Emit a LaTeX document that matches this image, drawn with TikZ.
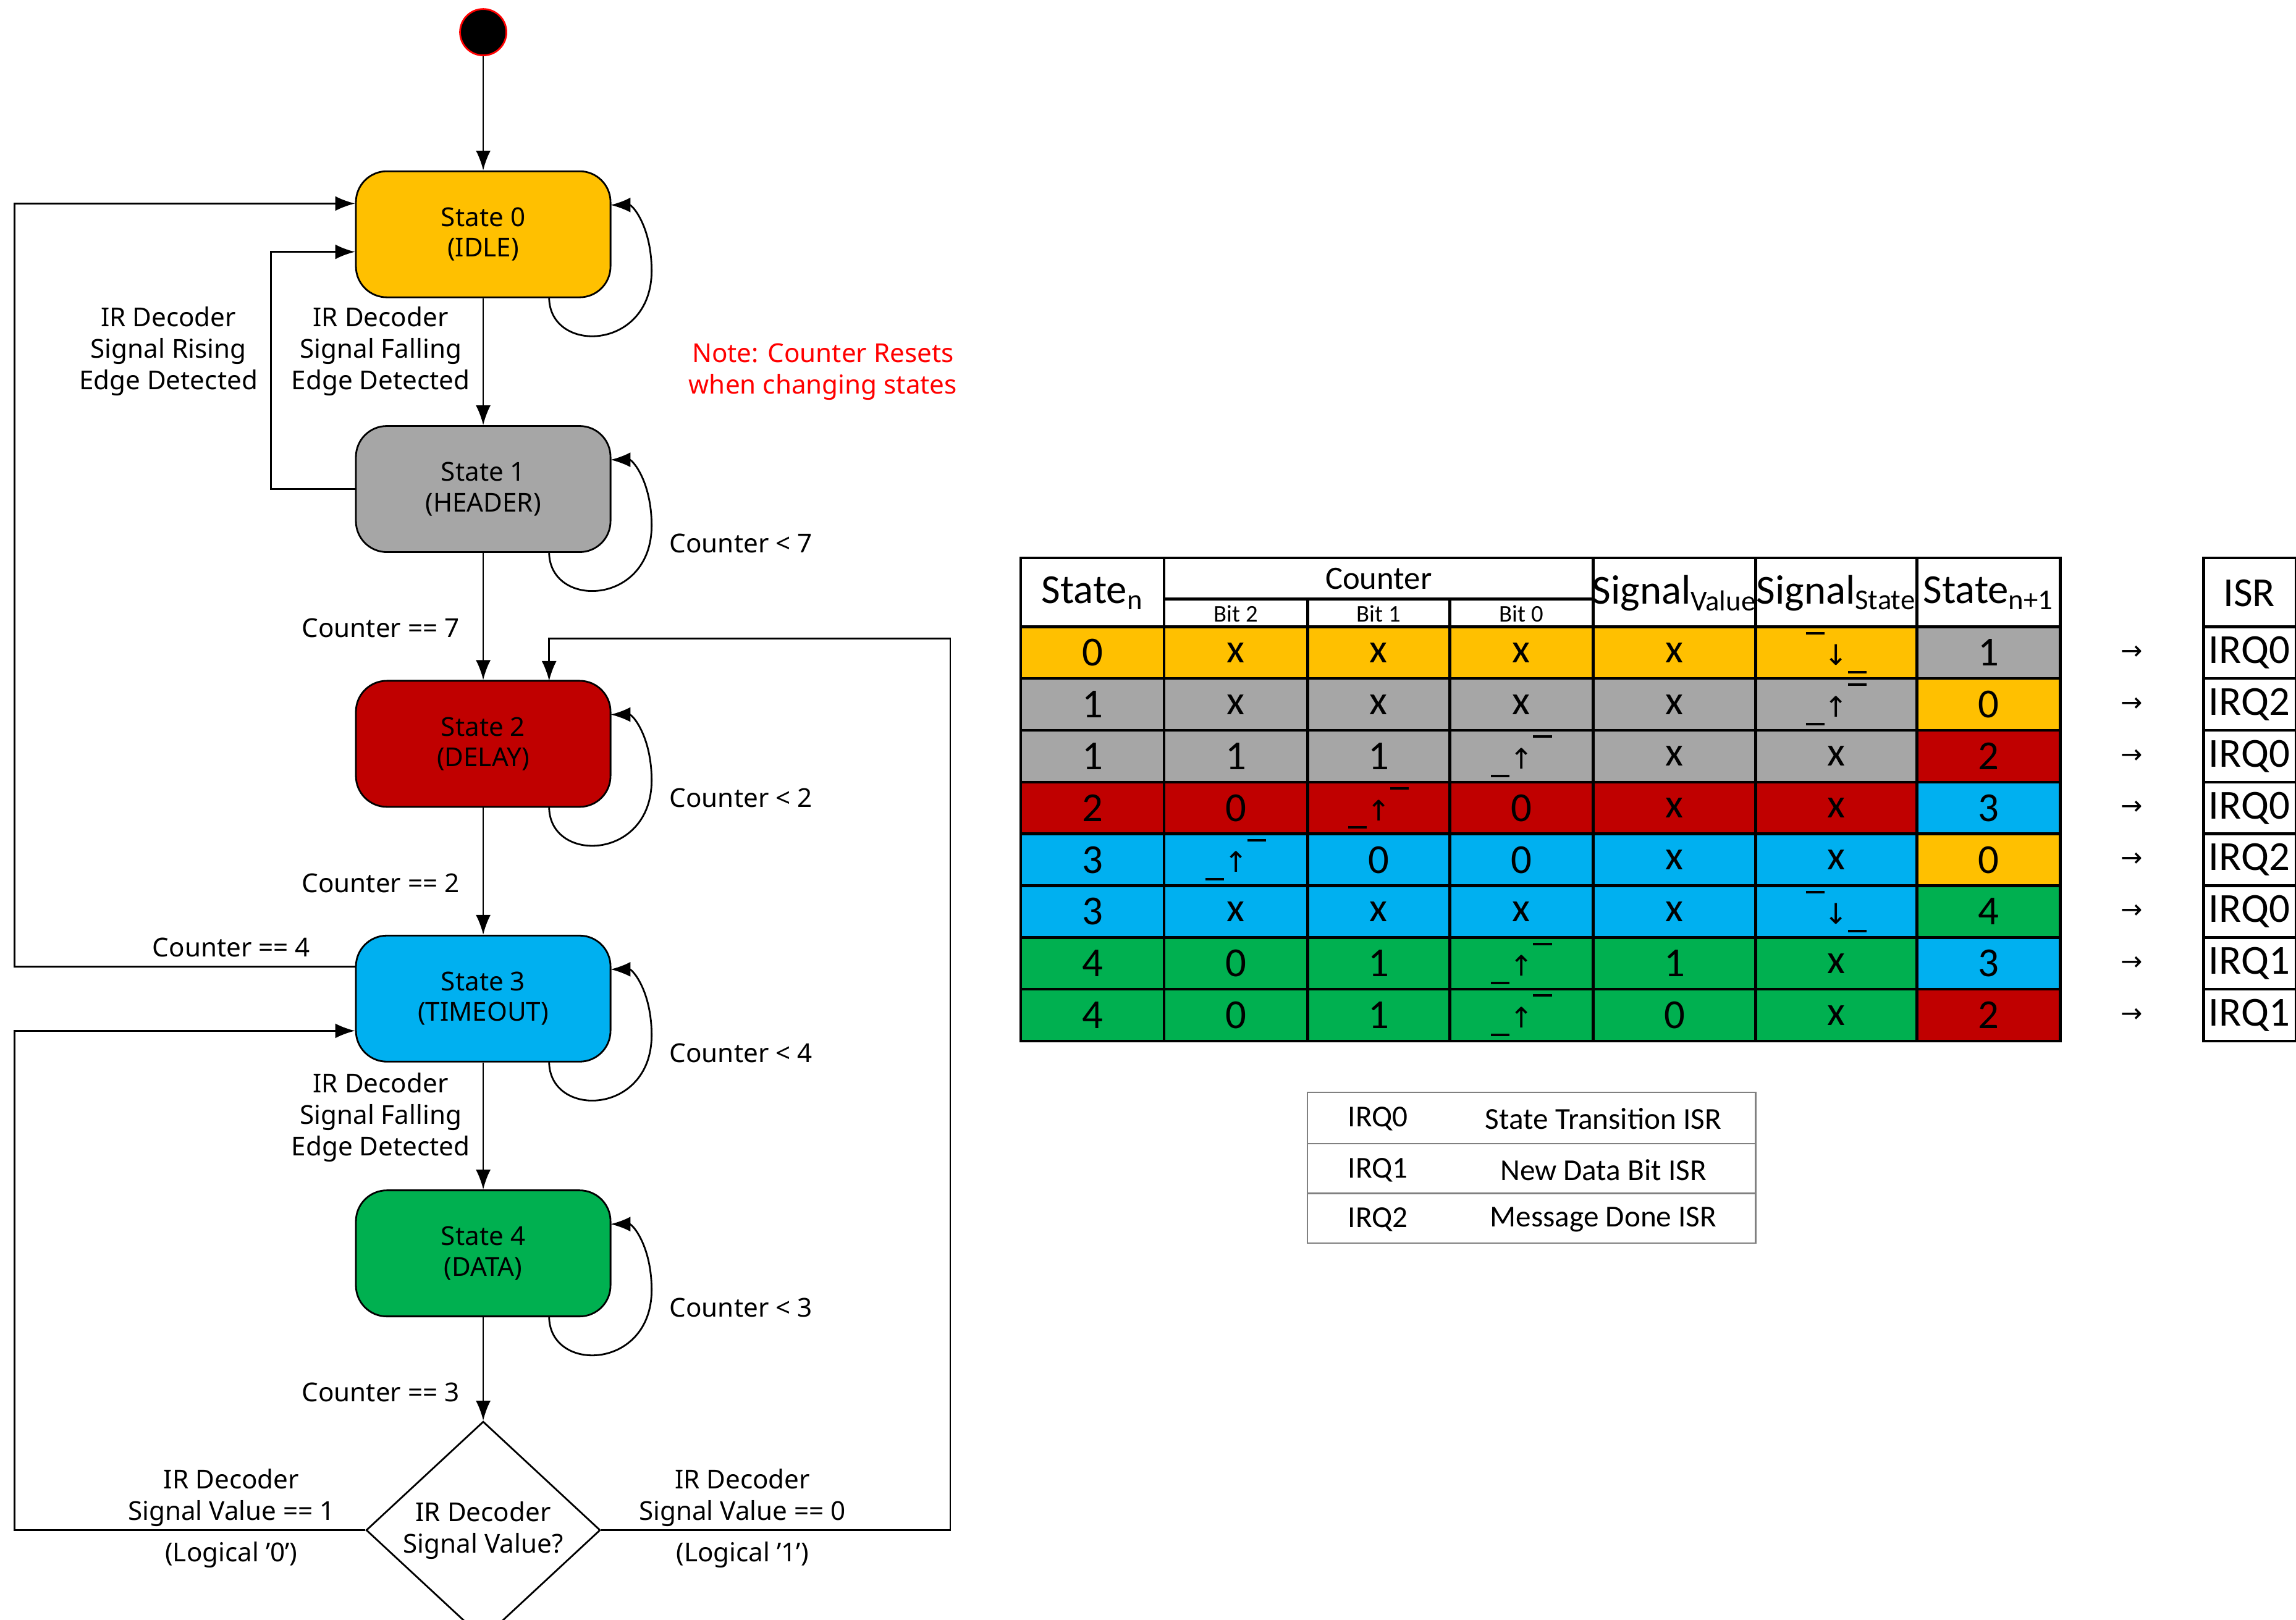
\documentclass[tikz,border=0pt]{standalone}
\usepackage{fontspec}
\setmainfont{Noto Sans}
\newfontfamily\tabfont{Carlito}
\newfontfamily\arrfont{DejaVu Sans}
\usepackage{tikz}
\usetikzlibrary{
	arrows.meta,
	calc,
	positioning,
	shapes.geometric,
}
\definecolor{syel}{HTML}{FFC000}
\definecolor{sgry}{HTML}{A6A6A6}
\definecolor{sred}{HTML}{C00000}
\definecolor{sblu}{HTML}{00B0F0}
\definecolor{sgrn}{HTML}{00B050}
\tikzset{state node/.style={
	draw,
	rounded corners=0.5cm,
	minimum width=4.12cm,
	minimum height=2.04cm,
	line width=0.8pt,
	align=center,
	font=\fontsize{12}{14}\selectfont,
}}
% falling and rising edge glyphs
\newcommand{\fe}{\rule[0.75em]{0.45em}{0.06em}{\arrfont\fontsize{13}{13}\selectfont ↓}\rule[-0.2em]{0.45em}{0.06em}}
\newcommand{\re}{\rule[-0.2em]{0.45em}{0.06em}{\arrfont\fontsize{13}{13}\selectfont ↑}\rule[0.75em]{0.45em}{0.06em}}

\begin{document}
\begin{tikzpicture}[
x=0.0237cm, y=-0.0237cm,
>={Latex[length=3.2mm,width=2.4mm]},
line width=0.8pt,
lbl/.style={align=center, font=\fontsize{12}{14.5}\selectfont},
cell/.style={font=\tabfont\fontsize{19}{20}\selectfont, inner sep=0},
]
\useasboundingbox (0,0) rectangle (1568,1106);

\tikzset{
	loop/.style={->},
}

% states
\node[circle, fill=black, draw=red, minimum size=0.75cm, inner sep=0] (init) at (330,22) {};
\node[state node, fill=syel] (s0) at (330,160) {State 0\\(IDLE)};
\node[state node, fill=sgry] (s1) at (330,334) {State 1\\(HEADER)};
\node[state node, fill=sred] (s2) at (330,508) {State 2\\(DELAY)};
\node[state node, fill=sblu] (s3) at (330,682) {State 3\\(TIMEOUT)};
\node[state node, fill=sgrn] (s4) at (330,856) {State 4\\(DATA)};
\node[draw, diamond, minimum width=3.79cm, minimum height=2.73cm, inner sep=0, lbl] (dec) at (330,1045) {IR Decoder\\Signal Value?};

% straight transitions
\draw[->] (init) -- (s0);
\draw[->] (s0) -- (s1);
\draw[->] (s1) -- (s2);
\draw[->] (s2) -- (s3);
\draw[->] (s3) -- (s4);
\draw[->] (s4) -- (dec);
\draw[->] (s1.west) -- (185,334) -- (185,172) -- (s0.west |- 0,172);
\draw[->] (s3.west |- 0,660) -- (10,660) -- (10,139) -- (s0.west |- 0,139);
\draw[->] (dec.west) -- (10,1045) -- (10,704) -- (s3.west |- 0,704);
\draw[->] (dec.east) -- (649,1045) -- (649,436) -- (375,436) -- (375,465);

% self loops
\foreach \s/\yy in {s0/160,s1/334,s2/508,s3/682,s4/856}{
	\draw[loop] (375,\yy+43) .. controls (375,\yy+82) and (445,\yy+80) .. (445,\yy+25)
		.. controls (445,\yy-5) and (432,\yy-20) .. (417,\yy-20);
}

% labels
\node[lbl] (l01) at (260,240) {IR Decoder\\Signal Falling\\Edge Detected};
\node[lbl] (l10) at (115,240) {IR Decoder\\Signal Rising\\Edge Detected};
\node[lbl, text=red] (note) at (562,254) {Note: Counter Resets\\when changing states};
\node[lbl] (c1) at (506,371) {Counter < 7};
\node[lbl] (c12) at (260,429) {Counter == 7};
\node[lbl] (c2) at (506,545) {Counter < 2};
\node[lbl] (c23) at (260,603) {Counter == 2};
\node[lbl] (c30) at (158,647) {Counter == 4};
\node[lbl] (c3) at (506,719) {Counter < 4};
\node[lbl] (c34) at (260,763) {IR Decoder\\Signal Falling\\Edge Detected};
\node[lbl] (c4) at (506,893) {Counter < 3};
\node[lbl] (c4d) at (260,951) {Counter == 3};
\node[lbl] (d1) at (158,1023) {IR Decoder\\Signal Value == 1};
\node[lbl] (d1b) at (158,1062) {(Logical '0')};
\node[lbl] (d0) at (507,1023) {IR Decoder\\Signal Value == 0};
\node[lbl] (d0b) at (507,1062) {(Logical '1')};

% transition table
\foreach \i/\fc/\nc/\sn/\ba/\bb/\bc/\sv/\ss/\nx/\irq in {
	0/syel/sgry/0/x/x/x/x/\fe/1/IRQ0,
	1/sgry/syel/1/x/x/x/x/\re/0/IRQ2,
	2/sgry/sred/1/1/1/\re/x/x/2/IRQ0,
	3/sred/sblu/2/0/\re/0/x/x/3/IRQ0,
	4/sblu/syel/3/\re/0/0/x/x/0/IRQ2,
	5/sblu/sgrn/3/x/x/x/x/\fe/4/IRQ0,
	6/sgrn/sblu/4/0/1/\re/1/x/3/IRQ1,
	7/sgrn/sred/4/0/1/\re/0/x/2/IRQ1}{
	\pgfmathsetmacro{\yt}{428+35.375*\i}
	\pgfmathsetmacro{\yc}{\yt+17.7}
	\fill[\fc] (697,\yt) rectangle (1309,\yt+35.375);
	\fill[\nc] (1309,\yt) rectangle (1407,\yt+35.375);
	\node[cell] at (746,\yc) {\sn};
	\node[cell] at (844,\yc) {\ba};
	\node[cell] at (941.5,\yc) {\bb};
	\node[cell] at (1039,\yc) {\bc};
	\node[cell] at (1143.5,\yc) {\sv};
	\node[cell] at (1254,\yc) {\ss};
	\node[cell] at (1358,\yc) {\nx};
	\node[cell, font=\arrfont\fontsize{12}{12}\selectfont] at (1456,\yc) {→};
	\node[cell] at (1536,\yc) {\irq};
	\draw[line width=1.3pt] (697,\yt) -- (1407,\yt);
	\draw[line width=1.3pt] (1505,\yt) -- (1568,\yt);
}
\draw[line width=1.3pt] (697,381) rectangle (1407,711);
\draw[line width=1.3pt] (1505,381) rectangle (1568,711);
\foreach \xx in {795,1088,1199,1309}{
	\draw[line width=1.3pt] (\xx,381) -- (\xx,711);
}
\foreach \xx in {893,990}{
	\draw[line width=1.3pt] (\xx,409) -- (\xx,711);
}
\draw[line width=1.3pt] (795,409) -- (1088,409);
\node[cell] (hs) at (746,405) {State\textsubscript{n}};
\node[cell, font=\tabfont\fontsize{15}{16}\selectfont] (hc) at (941.5,395) {Counter};
\foreach \xx/\bt in {844/Bit 2,941.5/Bit 1,1039/Bit 0}{
	\node[cell, font=\tabfont\fontsize{11}{12}\selectfont] at (\xx,419) {\bt};
}
\node[cell] (hv) at (1143.5,405) {Signal\textsubscript{Value}};
\node[cell] (hss) at (1254,405) {Signal\textsubscript{State}};
\node[cell] (hn) at (1358,405) {State\textsubscript{n+1}};
\node[cell] (hisr) at (1536,405) {ISR};

% legend
\draw[gray, line width=0.6pt] (893,746) rectangle (1199,849);
\draw[gray, line width=0.6pt] (893,781) -- (1199,781);
\draw[gray, line width=0.6pt] (893,815) -- (1199,815);
\foreach \yy/\q/\d in {764/IRQ0/State Transition ISR,799/IRQ1/New Data Bit ISR,833/IRQ2/Message Done ISR}{
	\node[cell, font=\tabfont\fontsize{14}{15}\selectfont] at (941,\yy) {\q};
	\node[cell, font=\tabfont\fontsize{14}{15}\selectfont] at (1095,\yy) {\d};
}
\end{tikzpicture}
\end{document}
